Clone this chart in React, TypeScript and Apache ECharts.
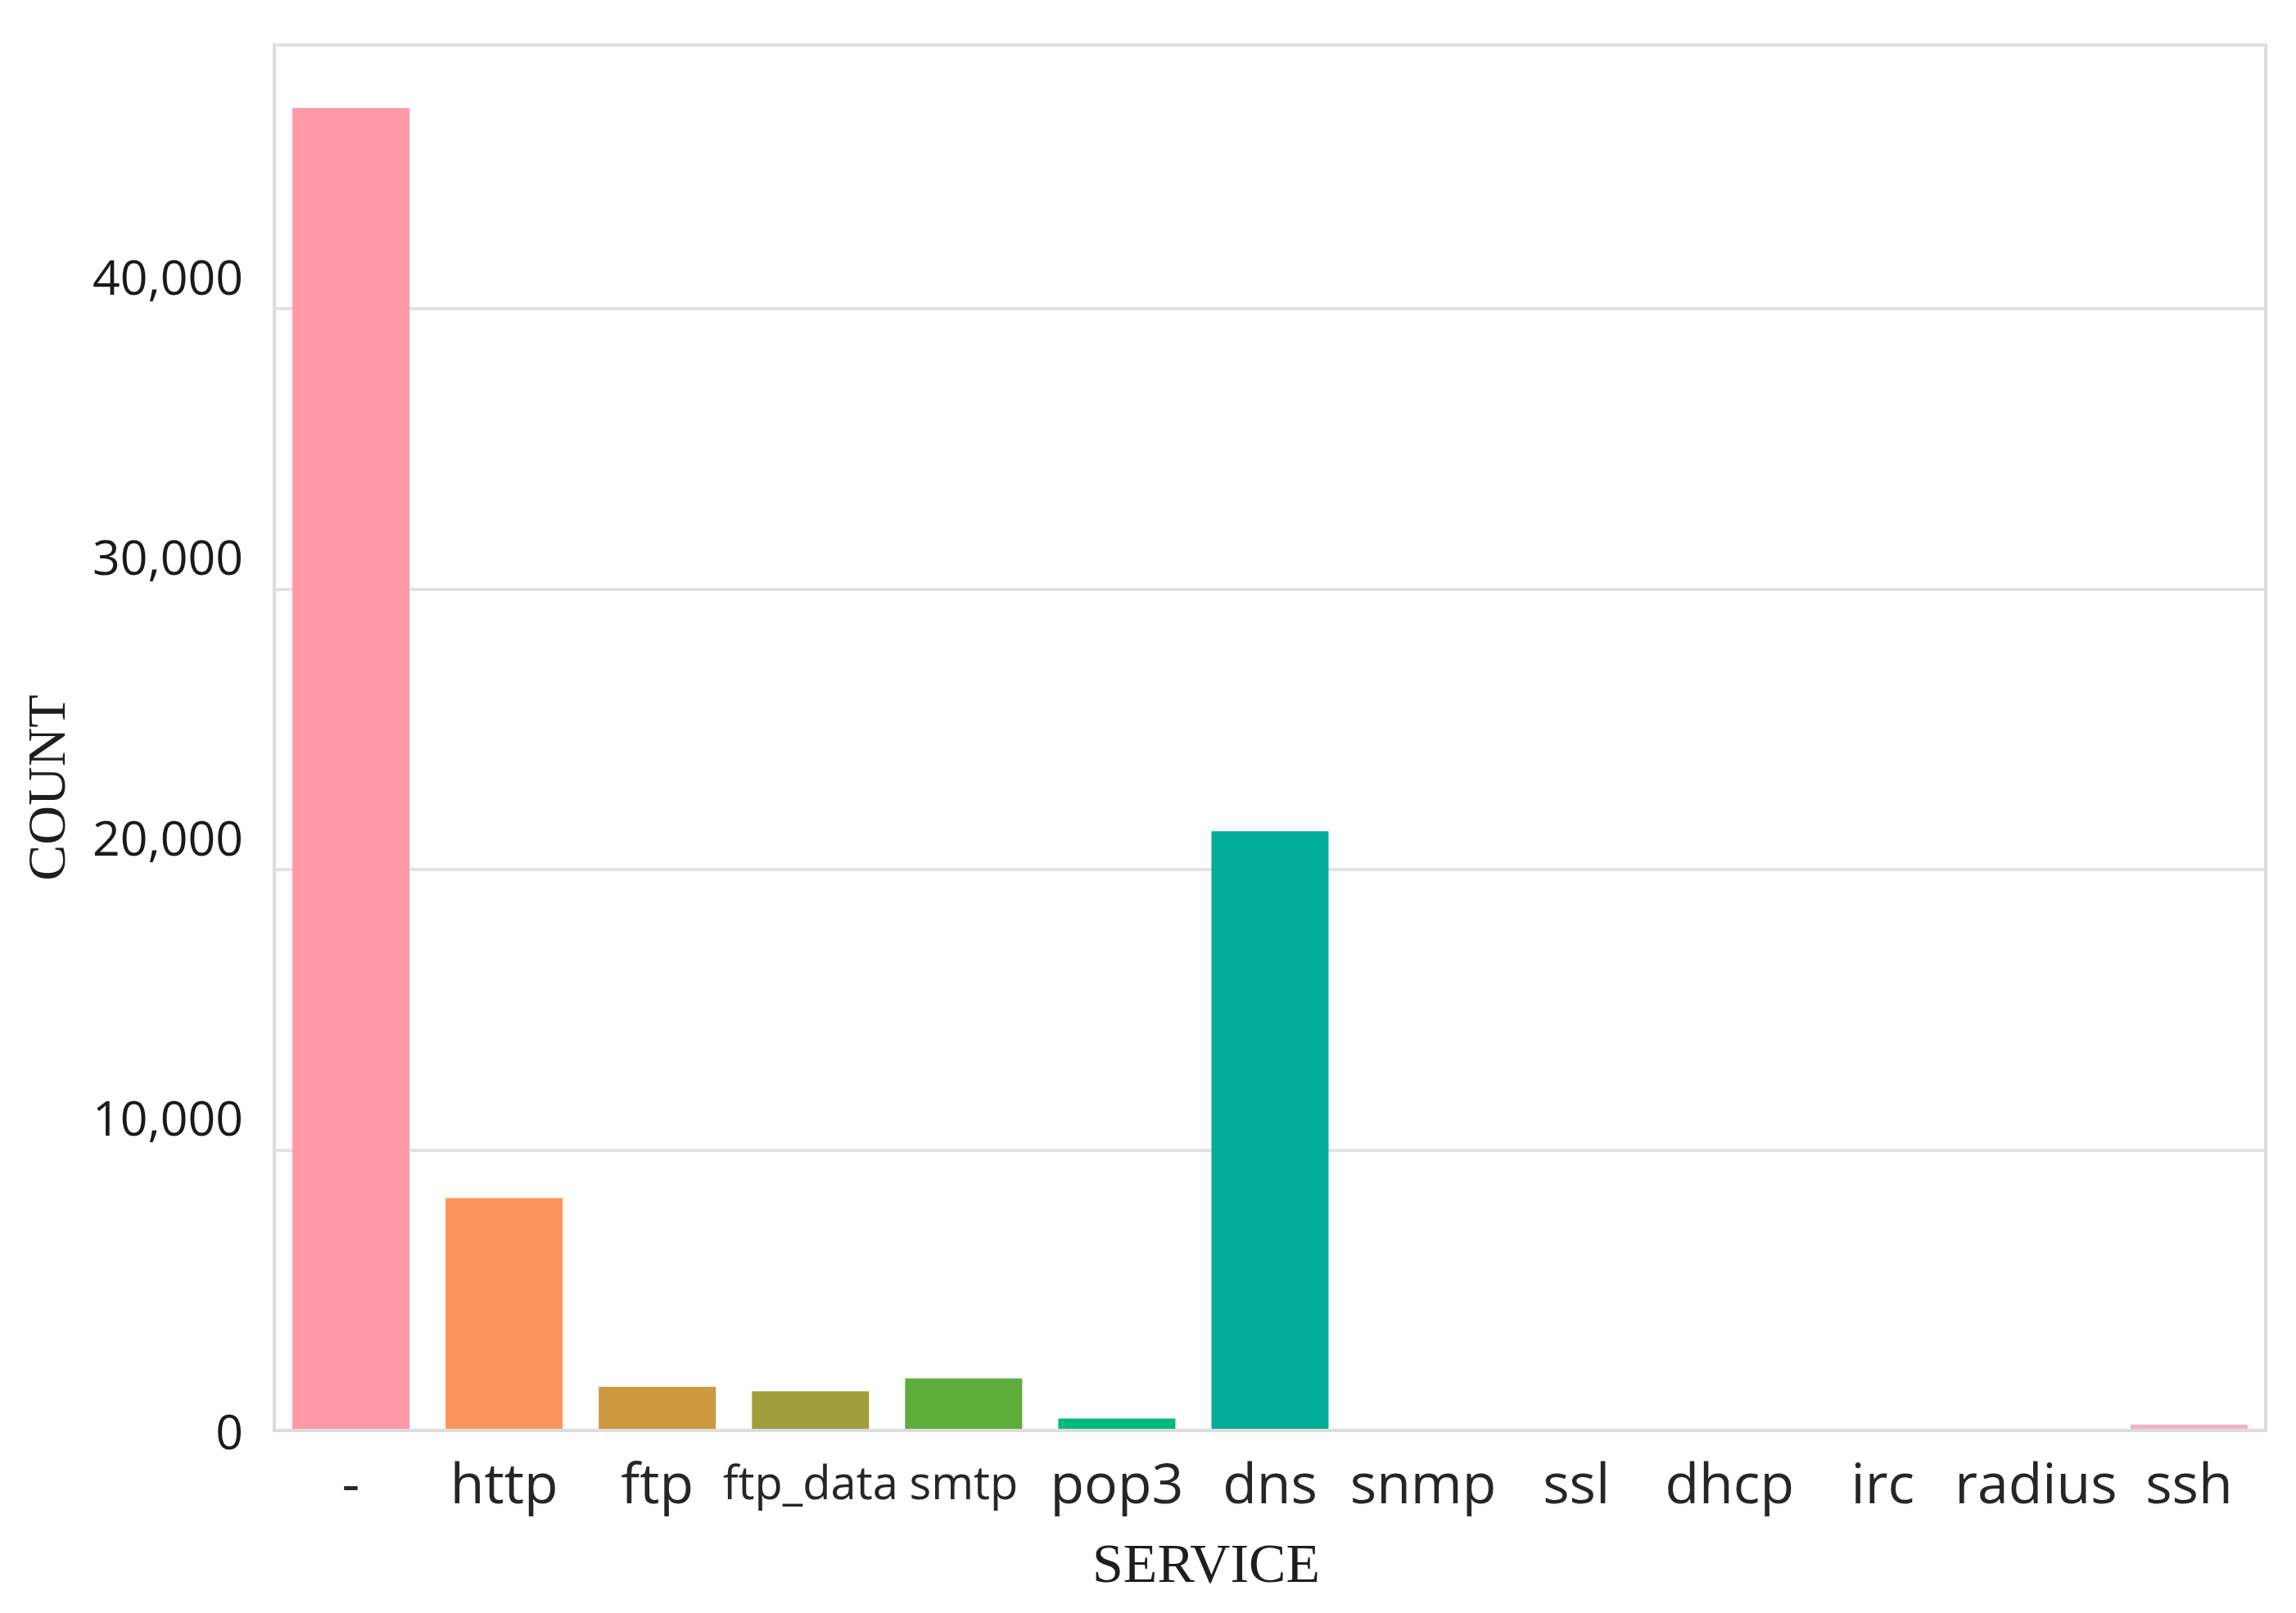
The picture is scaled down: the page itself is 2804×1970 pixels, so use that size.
import React, { useEffect, useRef } from "react";
import * as echarts from "echarts";

const categories = ["-", "http", "ftp", "ftp_data", "smtp", "pop3", "dns", "snmp", "ssl", "dhcp", "irc", "radius", "ssh"];
const counts = [47153, 8287, 1552, 1396, 1851, 423, 21367, 29, 30, 26, 5, 9, 204];
const barColors = [
  "#FF98A7", "#FC945B", "#CC993F", "#A0A03A", "#5DAD3B", "#00B97C", "#00AD98",
  "#00B0B8", "#00A9D9", "#5F9CF5", "#A68BF5", "#E37BEE", "#F6B0CA",
];
const yTicks = [0, 10000, 20000, 30000, 40000];
const yMax = 49400;
const condensedLabels = ["ftp_data", "smtp"];

export default function App() {
  const ref = useRef<HTMLDivElement>(null);
  useEffect(() => {
    if (!ref.current) return;
    const chart = echarts.init(ref.current, null, { renderer: "svg" });
    const option = {
      animation: false,
      backgroundColor: "#ffffff",
      grid: {
        left: 335,
        right: 37,
        top: 55,
        bottom: 223,
        containLabel: false,
        outerBoundsMode: "none",
        show: true,
        borderColor: "#dcdcdc",
        borderWidth: 4,
        backgroundColor: "transparent",
      },
      xAxis: {
        type: "category",
        data: categories,
        name: "SERVICE",
        nameLocation: "middle",
        nameGap: 128,
        nameTextStyle: {
          fontFamily: "Liberation Serif",
          fontSize: 68,
          color: "#1e1e1e",
          padding: [0, 156, 0, 0],
        },
        axisLine: { show: true, lineStyle: { color: "#dcdcdc", width: 4 } },
        axisTick: { show: false },
        z: 3,
        axisLabel: {
          interval: 0,
          margin: 22,
          color: "#262626",
          fontFamily: "Open Sans",
          formatter: (name: string) =>
            condensedLabels.includes(name) ? `{s|${name}}` : `{n|${name}}`,
          rich: {
            n: { fontFamily: "Open Sans", fontSize: 68, lineHeight: 80, color: "#262626" },
            s: { fontFamily: "Open Sans", fontSize: 56, lineHeight: 80, color: "#262626" },
          },
        },
      },
      yAxis: {
        type: "value",
        min: 0,
        max: yMax,
        interval: 10000,
        name: "COUNT",
        nameLocation: "middle",
        nameGap: 246,
        nameRotate: 90,
        nameTextStyle: {
          fontFamily: "Liberation Serif",
          fontSize: 66,
          color: "#1e1e1e",
          padding: [0, 122, 0, 0],
        },
        axisLine: { show: false },
        axisTick: { show: false },
        splitLine: { show: true, lineStyle: { color: "#e2e2e2", width: 4 } },
        axisLabel: {
          margin: 38,
          showMaxLabel: false,
          color: "#1a1a1a",
          fontFamily: "Open Sans",
          formatter: (v: number) => {
            if (!yTicks.includes(v)) return "";
            const s = v.toLocaleString("en-US");
            return v === 0 ? `{z|${s}}` : `{u|${s}}`;
          },
          rich: {
            z: { fontFamily: "Open Sans", fontSize: 59, color: "#1a1a1a" },
            u: { fontFamily: "Open Sans", fontSize: 59, color: "#1a1a1a", padding: [0, 0, 80, 0] },
          },
        },
      },
      series: [
        {
          type: "bar",
          barWidth: 143,
          data: counts.map((v, i) => ({ value: v, itemStyle: { color: barColors[i] } })),
        },
      ],
    };
    chart.setOption(option as any);
    return () => chart.dispose();
  }, []);
  return (
    <div
      ref={ref}
      style={{ position: "fixed", left: 0, top: 0, width: 2804, height: 1970, background: "#fff" }}
    />
  );
}
